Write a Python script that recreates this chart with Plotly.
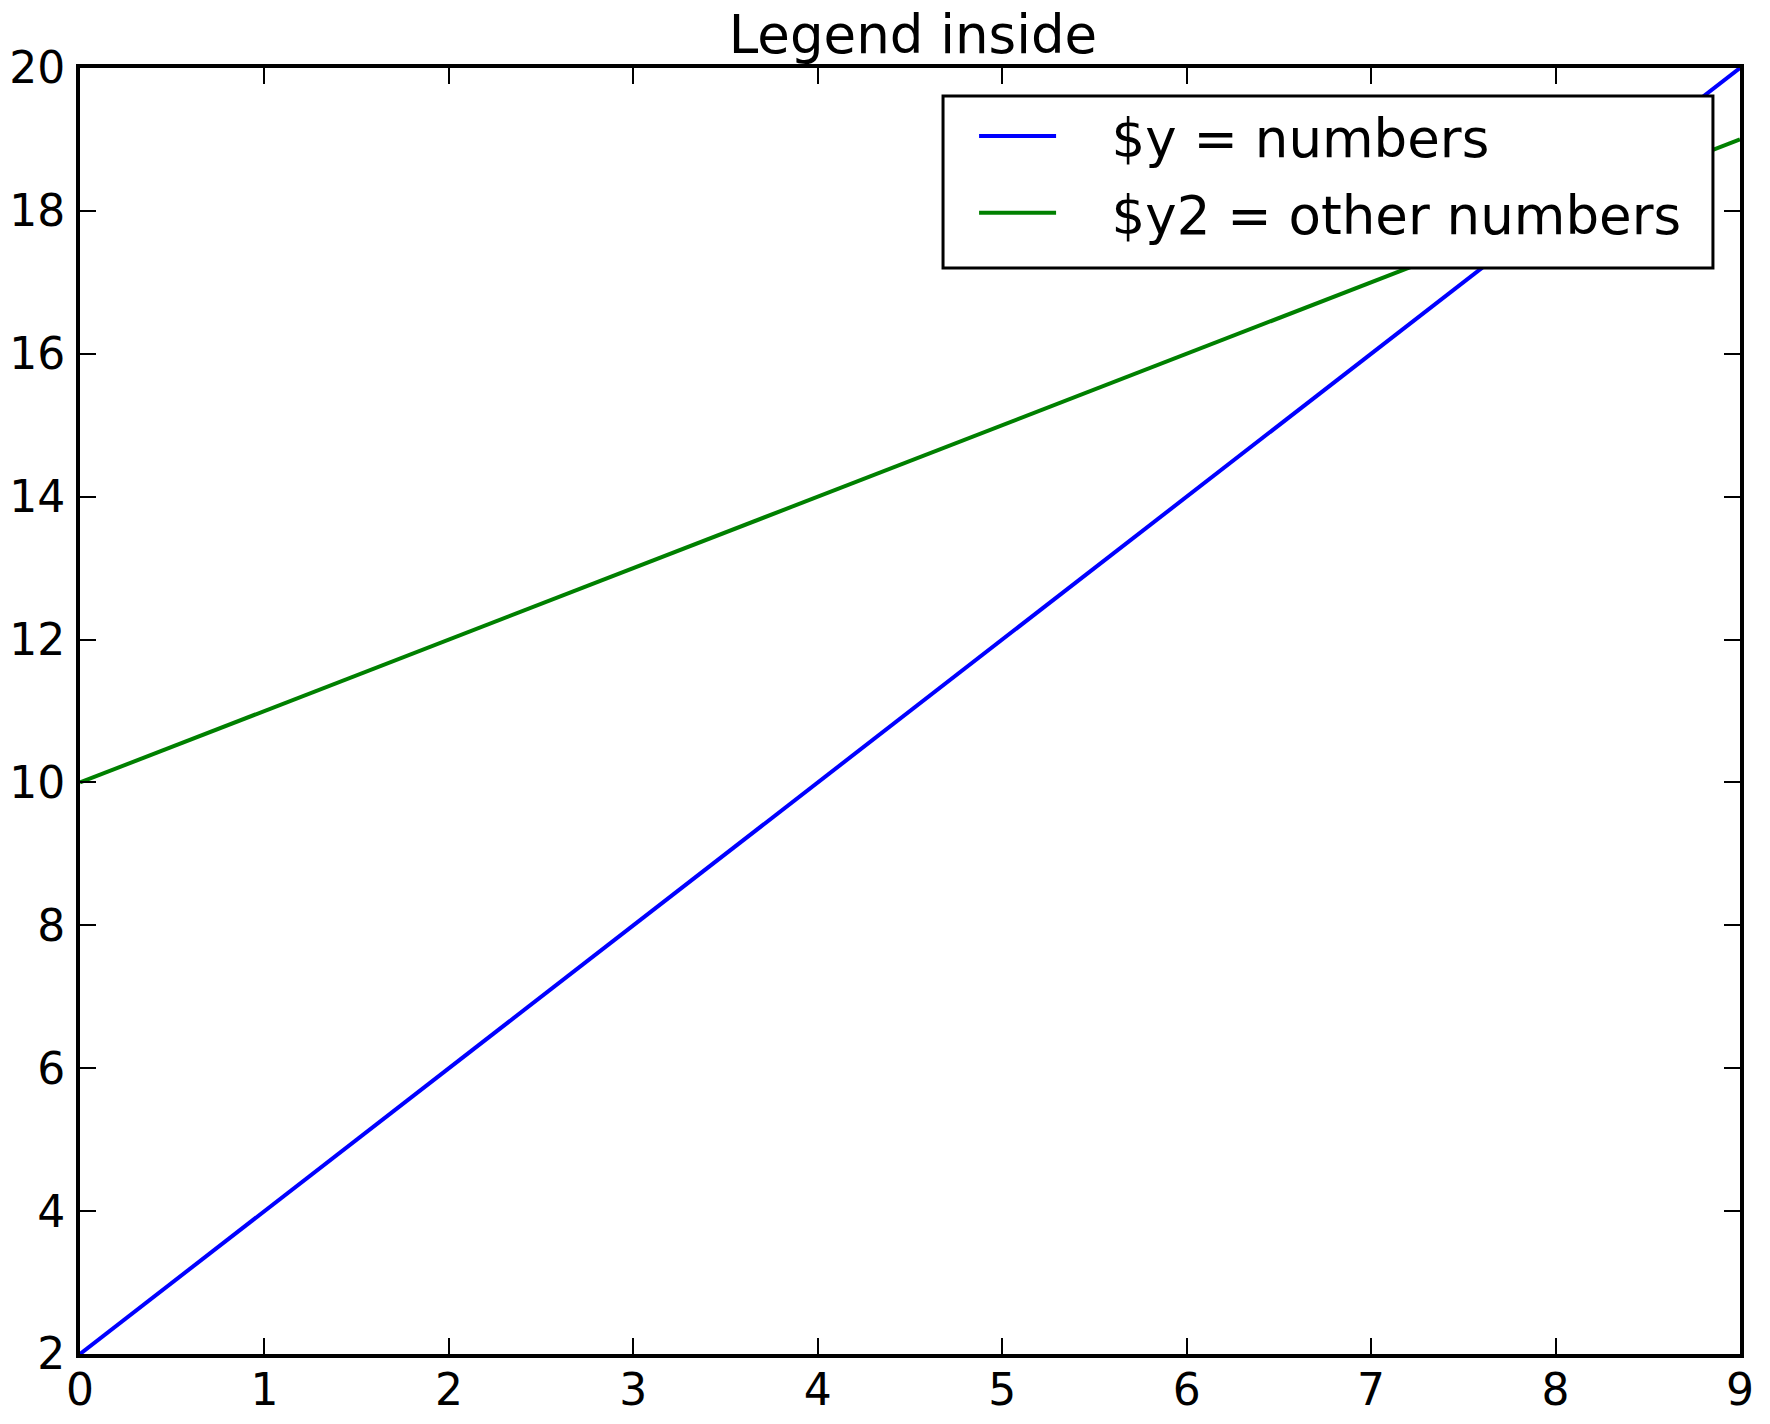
import plotly.graph_objects as go

# data
x_vals = [0, 1, 2, 3, 4, 5, 6, 7, 8, 9]
numbers = [2, 4, 6, 8, 10, 12, 14, 16, 18, 20]
other_numbers = [10, 11, 12, 13, 14, 15, 16, 17, 18, 19]
series_names = ['$y = numbers', '$y2 = other numbers']
x_ticks = [0, 1, 2, 3, 4, 5, 6, 7, 8, 9]
y_ticks = [2, 4, 6, 8, 10, 12, 14, 16, 18, 20]

FONT = 'DejaVu Sans'
GAP = '\u00a0' * 3  # room between legend sample and label, like matplotlib

fig = go.Figure()
fig.add_trace(go.Scatter(x=x_vals, y=numbers, mode='lines', name=GAP + series_names[0],
                         legendgroup='a', line=dict(color='#0000ff', width=4)))
fig.add_trace(go.Scatter(x=x_vals, y=other_numbers, mode='lines', name=GAP + series_names[1],
                         legendgroup='b', line=dict(color='#008000', width=4)))

axis_style = dict(
    showline=True, linecolor='black', linewidth=4, mirror='ticks',
    ticks='inside', ticklen=16, tickwidth=2, tickcolor='black',
    showgrid=False, zeroline=False, automargin=False,
    tickfont=dict(family=FONT, size=44, color='black'),
)

fig.update_xaxes(range=[0, 9], tickvals=x_ticks, ticklabelstandoff=-6, **axis_style)
fig.update_yaxes(range=[2, 20], tickvals=y_ticks, ticklabelstandoff=2, **axis_style)

# legend frame (matplotlib style box with padding around the entries)
fig.add_shape(type='rect', xref='paper', yref='paper',
              x0=0.5199, x1=0.9837, y0=0.8445, y1=0.9782,
              line=dict(color='black', width=3), fillcolor='white', layer='above')

fig.update_layout(
    width=1762, height=1416,
    margin=dict(l=72, r=30, t=60, b=70, autoexpand=False),
    plot_bgcolor='white', paper_bgcolor='white',
    font=dict(family=FONT, color='black'),
    title=dict(text='Legend inside', x=0.5136, xanchor='center',
               y=0.981, yref='container', yanchor='middle',
               font=dict(family=FONT, size=53, color='black')),
    legend=dict(
        x=0.5386, xanchor='left', y=0.979, yanchor='top',
        borderwidth=0, bgcolor='rgba(0,0,0,0)',
        font=dict(family=FONT, size=53, color='black'),
        itemwidth=77, tracegroupgap=5,
    ),
    showlegend=True,
)

fig.write_html("out.html")
